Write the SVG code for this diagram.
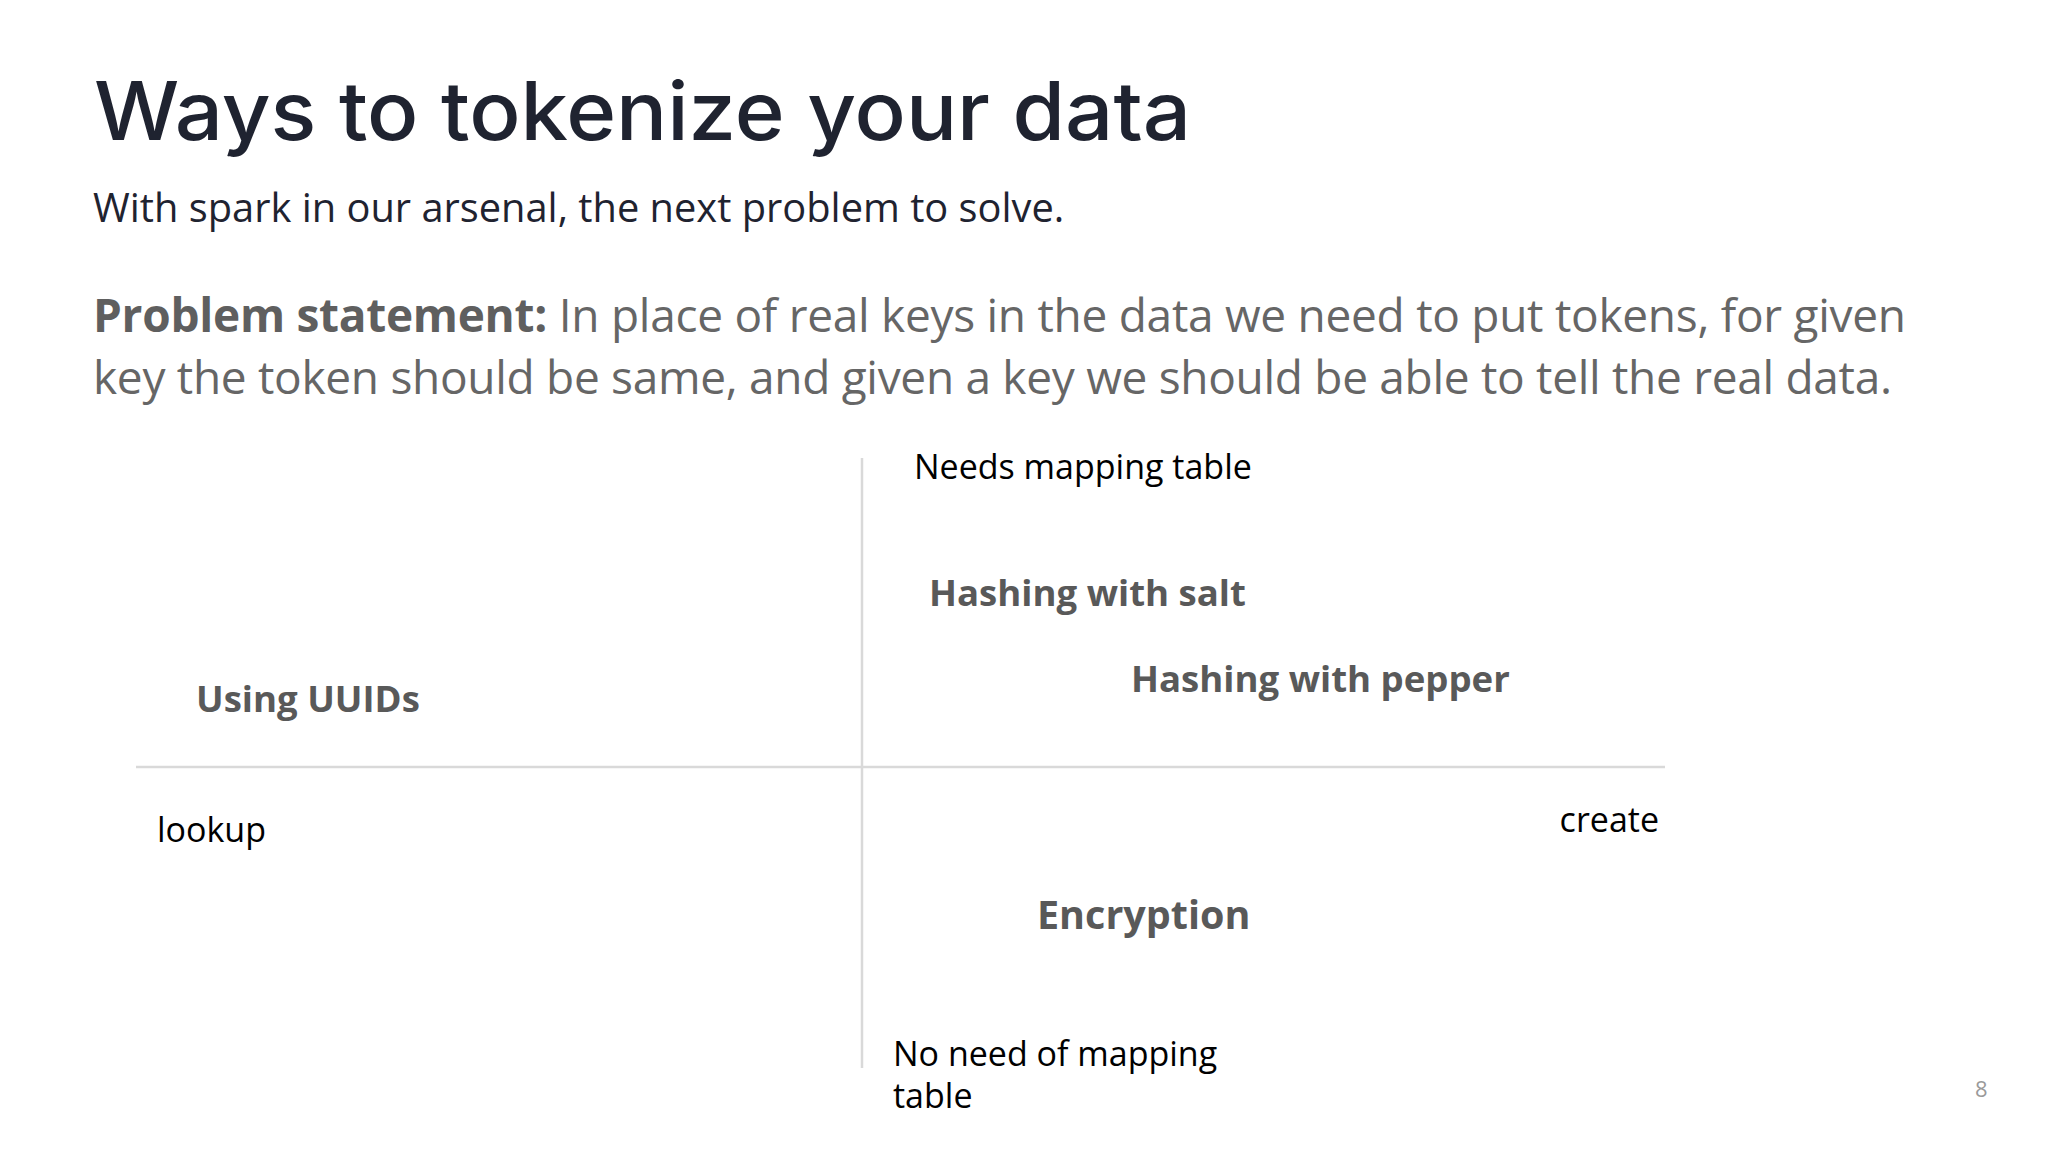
<svg xmlns="http://www.w3.org/2000/svg" width="2048" height="1152" viewBox="0 0 2048 1152">
<style>
text{font-family:"Open Sans","Noto Sans",sans-serif}
.title{font-family:Inter,"Open Sans",sans-serif;font-weight:500;font-size:81px;fill:#1f2330}
.sub{font-size:39.8px;fill:#1f2330}
.prob{font-size:46px;fill:#666666}
.pb{font-weight:700;fill:#5f5f5f}
.lbl{font-size:34px;fill:#000000}
.item{font-size:36.6px;font-weight:700;fill:#595959}
.axis{stroke:#d9d9d9;stroke-width:2.5;fill:none}
.pg{font-size:22px;fill:#9a9a9a}
</style>
<rect width="2048" height="1152" fill="#ffffff"/>
<g id="header">
<text class="title" x="94" y="140" textLength="1097" lengthAdjust="spacingAndGlyphs">Ways to tokenize your data</text>
<text class="sub" x="93" y="222">With spark in our arsenal, the next problem to solve.</text>
<text class="prob" x="93" y="332" textLength="1813" lengthAdjust="spacing"><tspan class="pb">Problem statement:</tspan> In place of real keys in the data we need to put tokens, for given</text>
<text class="prob" x="93" y="394" textLength="1799" lengthAdjust="spacing">key the token should be same, and given a key we should be able to tell the real data.</text>
</g>
<g id="axes">
<line class="axis" x1="862" y1="458" x2="862" y2="1068"/>
<line class="axis" x1="136" y1="767" x2="1665" y2="767"/>
</g>
<g id="axis-labels">
<text class="lbl" x="914" y="479">Needs mapping table</text>
<text class="lbl" x="157" y="842">lookup</text>
<text class="lbl" x="1659" y="832" text-anchor="end">create</text>
<text class="lbl" x="893" y="1066">No need of mapping<tspan x="893" dy="42">table</tspan></text>
</g>
<g id="node-salt"><text class="item" x="929" y="606">Hashing with salt</text></g>
<g id="node-pepper"><text class="item" x="1131" y="692">Hashing with pepper</text></g>
<g id="node-uuid"><text class="item" x="196" y="712">Using UUIDs</text></g>
<g id="node-encryption"><text class="item" x="1037" y="929" style="font-size:39.5px">Encryption</text></g>
<text class="pg" x="1975" y="1097">8</text>
</svg>
